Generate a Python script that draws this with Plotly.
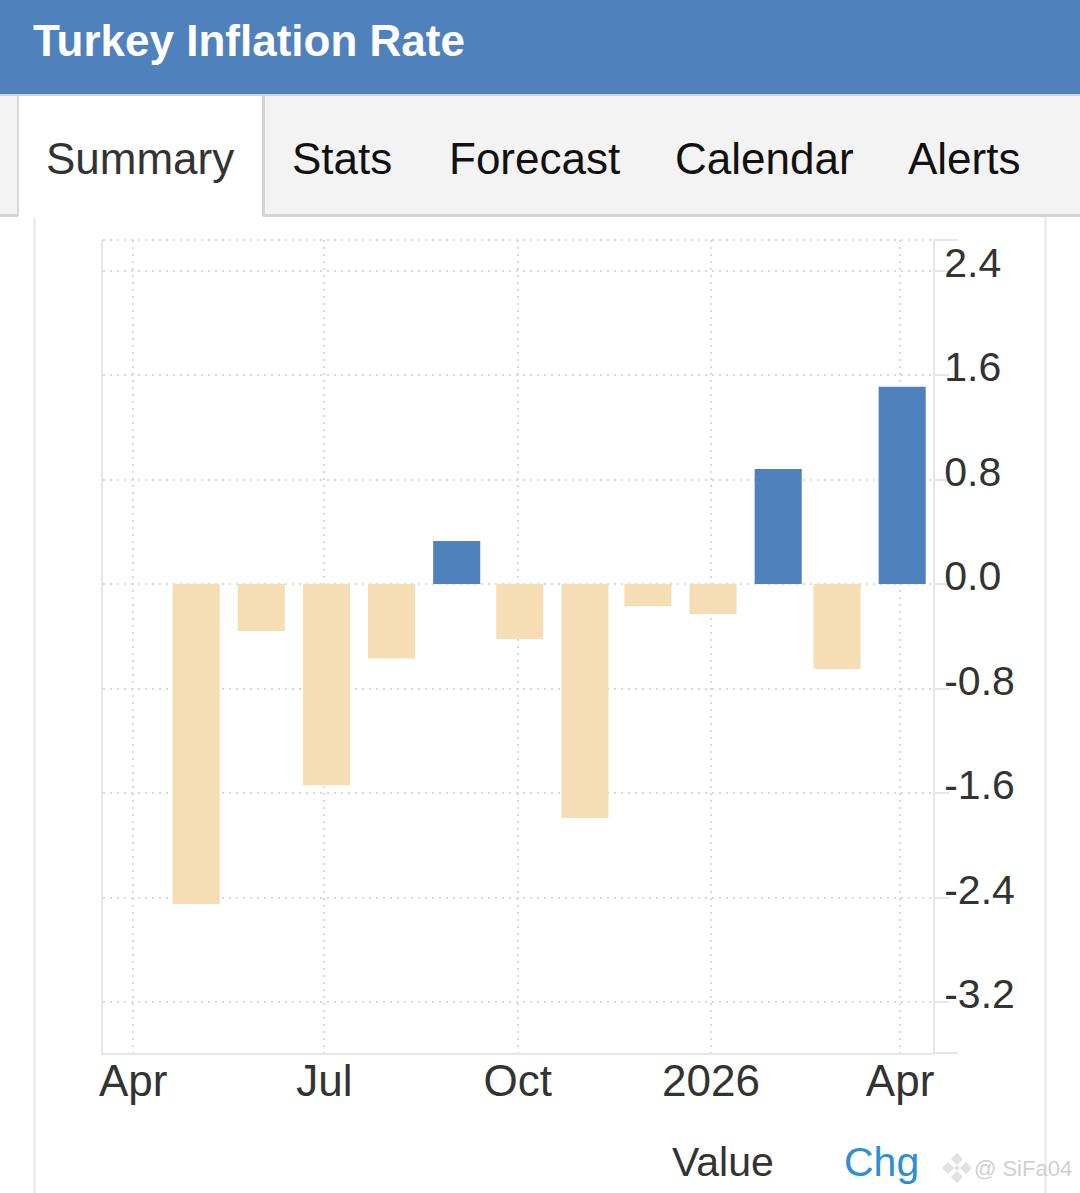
import plotly.graph_objects as go

months = ["2025-05-01", "2025-06-01", "2025-07-02", "2025-08-02", "2025-09-02", "2025-10-02",
          "2025-11-02", "2025-12-02", "2026-01-02", "2026-02-02", "2026-03-02", "2026-04-02"]
changes = [-2.45, -0.36, -1.54, -0.57, 0.33, -0.42, -1.79, -0.17, -0.23, 0.88, -0.65, 1.51]
y_ticks = [2.4, 1.6, 0.8, 0.0, -0.8, -1.6, -2.4, -3.2]
x_tick_dates = ["2025-04-01", "2025-07-01", "2025-10-01", "2026-01-01", "2026-04-01"]
x_tick_labels = ["Apr", "Jul", "Oct", "2026", "Apr"]
tabs = ["Stats", "Forecast", "Calendar", "Alerts"]

W, H = 1080, 1193
BLUE, SAND = "#4f81bd", "#f5deb3"
FONT = "Liberation Sans"
LINE = "#e6e6e6"
DOTS = "2px,5px"
px = lambda v: v / W
py = lambda v: 1 - v / H

fig = go.Figure(go.Bar(
    x=months, y=changes, width=22.4 * 86400000,
    marker=dict(color=[BLUE if v > 0 else SAND for v in changes], line_width=0),
))

def rect(x0, y0, x1, y1, fill, layer="below"):
    fig.add_shape(type="rect", xref="paper", yref="paper", x0=px(x0), x1=px(x1), y0=py(y0), y1=py(y1),
                  fillcolor=fill, line_width=0, layer=layer)

def hline(x0, y0, x1, y1, color, w=2, dash="solid"):
    fig.add_shape(type="line", xref="paper", yref="paper", x0=px(x0), x1=px(x1), y0=py(y0), y1=py(y1),
                  line=dict(color=color, width=w, dash=dash), layer="below")

def label(x, y, text, size, color, bold=False):
    fig.add_annotation(xref="paper", yref="paper", x=px(x), y=py(y), text=f"<b>{text}</b>" if bold else text,
                       showarrow=False, xanchor="left", yanchor="middle", borderpad=0,
                       font=dict(family=FONT, size=size, color=color))

def diamond(cx, cy, r, color):
    pts = [(cx, cy - r), (cx + r, cy), (cx, cy + r), (cx - r, cy)]
    path = "M " + " L ".join(f"{px(a):.5f} {py(b):.5f}" for a, b in pts) + " Z"
    fig.add_shape(type="path", xref="paper", yref="paper", path=path, fillcolor=color, line_width=0, layer="below")

rect(0, 0, W, 94, BLUE)
rect(0, 94, W, 96, "#c9d6e6")
rect(0, 96, W, 215, "#f3f3f3")
rect(18, 96, 263, 217, "#ffffff")
hline(0, 215.5, 18, 215.5, "#d4d4d4", 3)
hline(263, 215.5, W, 215.5, "#d4d4d4", 3)
hline(18, 96, 18, 216, "#d9d9d9")
hline(263.5, 96, 263.5, 216, "#d4d4d4", 3)
hline(34.5, 217, 34.5, H, "#e4e9ec", 2)
hline(1045.5, 217, 1045.5, H, "#e4e9ec", 2)
hline(933, 1053, 958, 1053, LINE, 2)
hline(103, 240, 933, 240, "#d8d8d8", 2, DOTS)
hline(933, 240, 958, 240, LINE, 2)

label(32, 41, "Turkey Inflation Rate", 44, "#ffffff", bold=True)
label(45, 159, "Summary", 44, "#333333")
for t, x in zip(tabs, [291, 448, 674, 907]):
    label(x, 159, t, 44, "#111111")
label(671, 1162, "Value", 41, "#333333")
label(843, 1162, "Chg", 41, "#2f8fd0")
label(973, 1168, "@ SiFa04", 22, "#d0d0d0")

for dx, dy in [(0, -9), (-9, 0), (9, 0), (0, 9)]:
    diamond(957 + dx, 1168 + dy, 6, "#e2e2e2")
diamond(957, 1168, 3, "#e2e2e2")

axis = dict(showgrid=True, gridcolor="#d8d8d8", gridwidth=2, griddash=DOTS, zeroline=False,
            showline=True, linecolor=LINE, linewidth=2, automargin=False)

fig.update_layout(
    width=W, height=H, autosize=False, margin=dict(l=0, r=0, t=0, b=0),
    paper_bgcolor="#ffffff", plot_bgcolor="#ffffff", showlegend=False,
    xaxis=dict(type="date", domain=[px(103), px(933)], range=["2025-03-17 16:00", "2026-04-16 16:00"],
               tickmode="array", tickvals=x_tick_dates, ticktext=x_tick_labels, ticks="",
               ticklabelstandoff=-12, tickfont=dict(family=FONT, size=44, color="#333333"), **axis),
    yaxis=dict(side="right", domain=[py(1053), py(240)], range=[-3.59, 2.634], mirror=True,
               tickmode="array", tickvals=y_ticks, ticktext=[f"{v:.1f}" for v in y_ticks],
               ticks="outside", ticklen=14, tickwidth=2, tickcolor=LINE, ticklabelshift=-8, ticklabelstandoff=-13,
               tickfont=dict(family=FONT, size=41, color="#333333"), **axis),
)
fig.write_html("out.html", config={"displayModeBar": False},
               post_script="document.body.style.margin='0';document.body.style.overflow='hidden';")
